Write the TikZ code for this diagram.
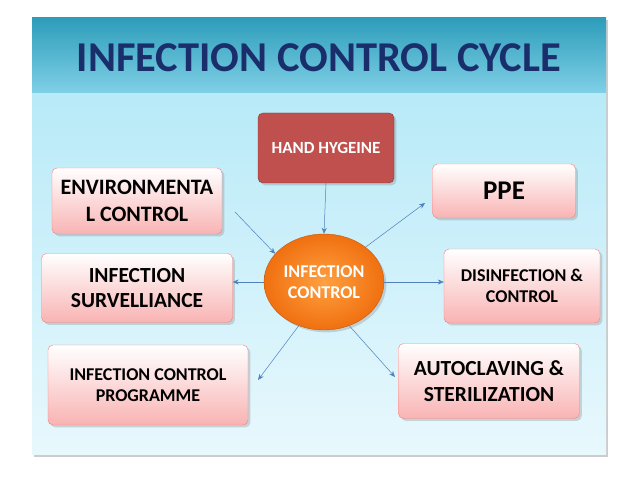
\documentclass[tikz,border=0pt]{standalone}
\usepackage{fontspec}
\setmainfont{Carlito}
\usetikzlibrary{arrows.meta,shadows,shapes.geometric}
\definecolor{titlea}{HTML}{2E9DBA}
\definecolor{titleb}{HTML}{7FD0E6}
\definecolor{bodya}{HTML}{B8EAF8}
\definecolor{bodyb}{HTML}{E8F8FD}
\definecolor{navy}{HTML}{1A2E6B}
\definecolor{pinka}{HTML}{FFFFFF}
\definecolor{pinkb}{HTML}{F9B3B3}
\definecolor{redbox}{HTML}{C0504D}
\definecolor{orangea}{HTML}{FFA040}
\definecolor{orangeb}{HTML}{F07010}
\definecolor{arr}{HTML}{4F81BD}
\newcommand{\fs}[1]{\fontsize{#1pt}{\dimexpr #1pt*6/5\relax}\selectfont\bfseries}
\tikzset{
  box/.style={draw=pinkb!70!red, rounded corners=5pt, top color=pinka, bottom color=pinkb,
     align=center, text=black, inner sep=2pt, drop shadow={opacity=0.3}},
  link/.style={draw=arr, -{Stealth[length=6pt,width=5pt]}, line width=0.5pt}
}
\begin{document}
\begin{tikzpicture}[x=1pt,y=-1pt]
\useasboundingbox (0,0) rectangle (638,478);
\fill[white] (0,0) rectangle (638,478);
\fill[gray!40] (34,20) rectangle (608,457);
\shade[top color=bodya, bottom color=bodyb] (32,93) rectangle (606,455);
\shade[top color=titlea, bottom color=titleb] (32,18) rectangle (606,93);
\node[font=\fontsize{42.5}{46}\selectfont\bfseries, text=navy] (title) at (319,58) {INFECTION CONTROL CYCLE};

\node[draw=redbox!70!black, rounded corners=5pt, fill=redbox, text=white, font=\fs{17},
  minimum width=136, minimum height=70, drop shadow={opacity=0.3}] (hh) at (326,148) {HAND HYGEINE};
\node[box, minimum width=143, minimum height=54, font=\fs{27}] (ppe) at (504,191) {PPE};
\node[box, minimum width=170, minimum height=66, font=\fs{22}] (env) at (137,201) {ENVIRONMENTA\\L CONTROL};
\node[box, minimum width=191, minimum height=69, font=\fs{21.5}] (sur) at (137,288) {INFECTION\\SURVELLIANCE};
\node[box, minimum width=156, minimum height=74, font=\fs{18}] (dis) at (522,286) {DISINFECTION \&\\CONTROL};
\node[box, minimum width=200, minimum height=80, font=\fs{18}] (prog) at (148,385) {INFECTION CONTROL\\PROGRAMME};
\node[box, minimum width=181, minimum height=75, font=\fs{21.5}] (auto) at (489,381) {AUTOCLAVING \&\\STERILIZATION};
\node[ellipse, draw=orangeb!80!black, inner sep=0pt, minimum width=120, minimum height=96,
  inner color=orangea, outer color=orangeb, text=white, font=\fs{18}, align=center,
  drop shadow={opacity=0.3}] (c) at (324,282) {INFECTION\\CONTROL};

\coordinate (e1) at (235,212);
\coordinate (pp) at (425,203);
\coordinate (pr) at (258,380);
\coordinate (au) at (395,377);
\draw[link] (hh.south) -- (c.north);
\draw[link] (e1) -- (c.150);
\draw[link] (c.40) -- (pp);
\draw[link] (c.east) -- (dis.west |- c.east);
\draw[link] (c.west) -- (sur.east |- c.west);
\draw[link] (c.240) -- (pr);
\draw[link] (c.300) -- (au);
\end{tikzpicture}
\end{document}
